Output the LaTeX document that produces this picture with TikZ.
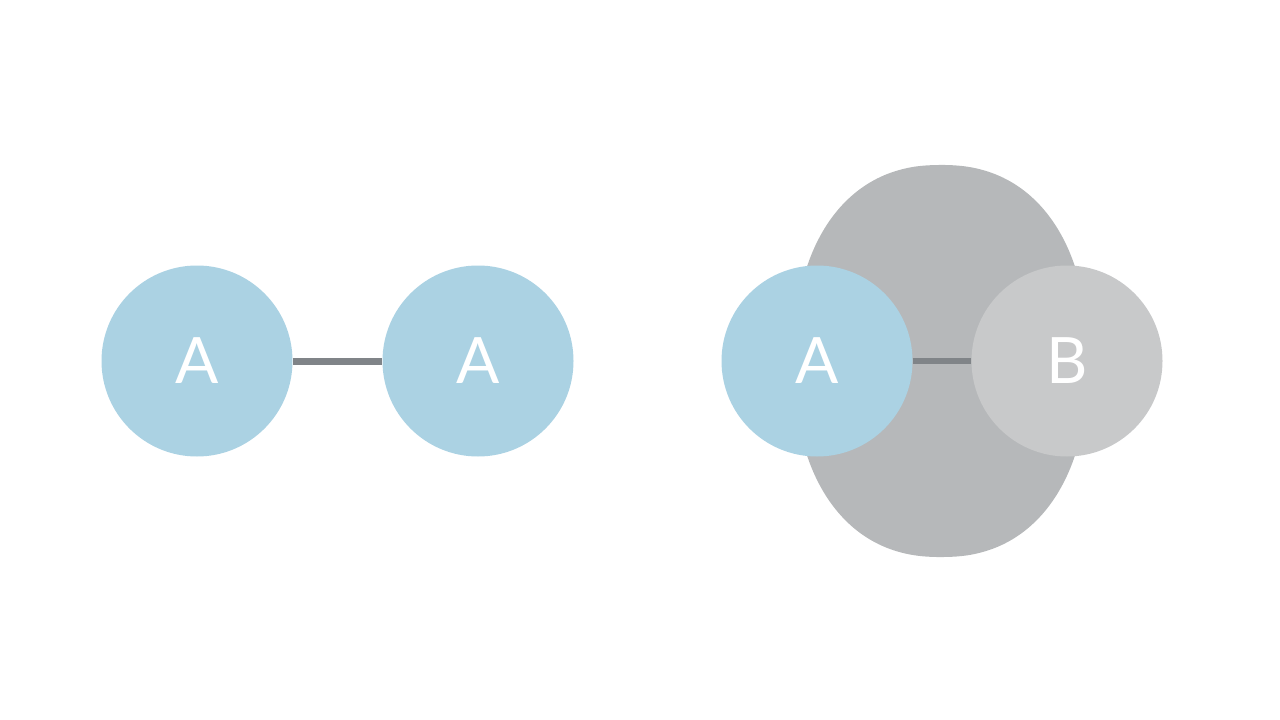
\documentclass[tikz,border=0pt]{standalone}
\usepackage{fontspec}
\setmainfont{Lato}
\usetikzlibrary{positioning}
\definecolor{atomblue}{RGB}{171,210,227}
\definecolor{atomgrey}{RGB}{200,201,202}
\definecolor{cloudgrey}{RGB}{182,184,186}
\definecolor{bondgrey}{RGB}{128,132,136}
\tikzset{%
	atom/.style={
		circle,
		draw=none,
		inner sep=0pt,
		minimum size=191pt,
		text=white,
		font=\fontsize{64}{64}\selectfont
	},
	atom-A/.style={ fill=atomblue },
	atom-B/.style={ fill=atomgrey },
	bond/.style={ draw=bondgrey, line width=7pt },
}

\begin{document}
\begin{tikzpicture}[x=1pt, y=-1pt]
\useasboundingbox (0,0) rectangle (1280,720);

% electron cloud
\fill[cloudgrey] plot[domain=1:361, samples=121, smooth cycle]
	({941+147*sign(cos(\x))*pow(abs(cos(\x)),0.88)},
	 {361+196*sign(sin(\x))*pow(abs(sin(\x)),0.88)});

% atoms
\node[atom, atom-A] (left-1) at (197,361) {A};
\node[atom, atom-A] (left-2) at (478,361) {A};
\node[atom, atom-A] (right-A) at (817,361) {A};
\node[atom, atom-B] (right-B) at (1067,361) {B};

% bonds
\draw[bond] (left-1) -- (left-2);
\draw[bond, line width=6pt] (right-A) -- (right-B);

\end{tikzpicture}
\end{document}
